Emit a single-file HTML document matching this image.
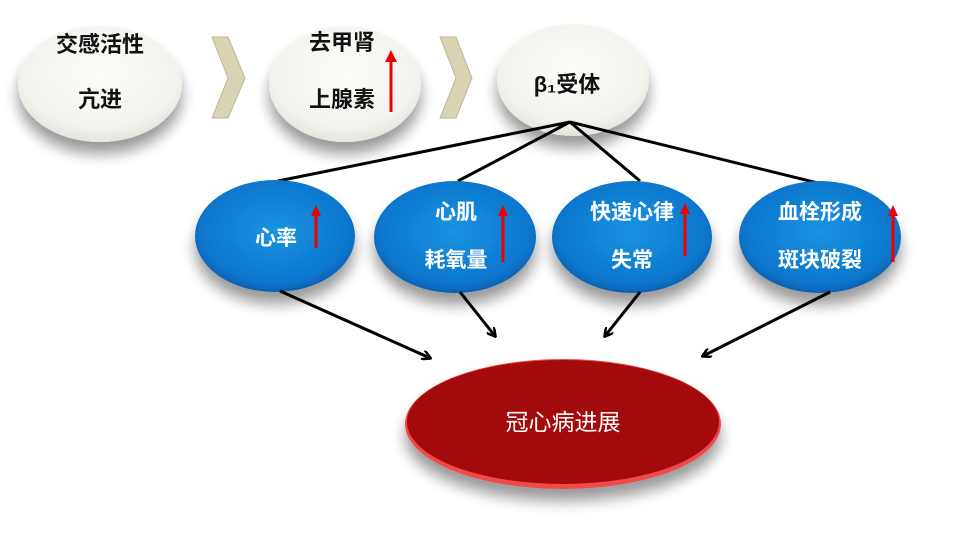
<!DOCTYPE html>
<html><head><meta charset="utf-8"><style>
body{margin:0;background:#fff;}
svg text{font-family:"Liberation Sans","Noto Sans CJK SC",sans-serif;}
</style></head><body>
<svg width="960" height="543" viewBox="0 0 960 543" xmlns="http://www.w3.org/2000/svg">
<defs>
<radialGradient id="wg" cx="50%" cy="40%" r="60%"><stop offset="0" stop-color="#fbfbf8"/><stop offset="0.8" stop-color="#f3f3ee"/><stop offset="1" stop-color="#e4e4de"/></radialGradient>
<radialGradient id="bg" cx="50%" cy="45%" r="55%"><stop offset="0" stop-color="#1a94e2"/><stop offset="0.85" stop-color="#0b76cc"/><stop offset="1" stop-color="#0660b0"/></radialGradient>
<filter id="sh" x="-30%" y="-30%" width="160%" height="170%"><feGaussianBlur in="SourceAlpha" stdDeviation="7"/><feOffset dx="0" dy="12"/><feComponentTransfer><feFuncA type="linear" slope="0.4"/></feComponentTransfer><feMerge><feMergeNode/><feMergeNode in="SourceGraphic"/></feMerge></filter>
<marker id="ah" markerWidth="10" markerHeight="10" refX="8" refY="5" orient="auto" markerUnits="userSpaceOnUse"><path d="M0,0 L9,5 L0,10" fill="none" stroke="#000" stroke-width="2.5"/></marker>
</defs>
<ellipse cx="100" cy="84" rx="82" ry="58" fill="url(#wg)" filter="url(#sh)"/>
<ellipse cx="345" cy="84" rx="76" ry="58" fill="url(#wg)" filter="url(#sh)"/>
<ellipse cx="573" cy="80" rx="76" ry="56" fill="url(#wg)" filter="url(#sh)"/>
<polygon points="212,37 228,37 245,78 228,118 212,118 228,78" fill="#d8d3b3" stroke="#bdb793" stroke-width="1"/>
<polygon points="440,37 456,37 472,78 456,118 440,118 456,78" fill="#d8d3b3" stroke="#bdb793" stroke-width="1"/>
<g font-weight="bold" fill="#111" font-size="22" text-anchor="middle">
<text x="100" y="52">交感活性</text>
<text x="100" y="107">亢进</text>
<text x="342" y="50">去甲肾</text>
<text x="342" y="107">上腺素</text>
<text x="567" y="92">β₁受体</text>
</g>
<line x1="391" y1="112" x2="391" y2="60" stroke="#e00" stroke-width="3"/><polygon points="385,62 391,50 397,62" fill="#e00"/>
<g stroke="#000" stroke-width="3">
<line x1="570" y1="122" x2="278" y2="181"/>
<line x1="570" y1="122" x2="458" y2="181"/>
<line x1="570" y1="122" x2="640" y2="181"/>
<line x1="570" y1="122" x2="830" y2="186"/>
</g>
<ellipse cx="275" cy="236" rx="80" ry="56" fill="url(#bg)" filter="url(#sh)"/>
<ellipse cx="455" cy="237" rx="81" ry="56" fill="url(#bg)" filter="url(#sh)"/>
<ellipse cx="632" cy="237" rx="80" ry="56" fill="url(#bg)" filter="url(#sh)"/>
<ellipse cx="820" cy="237" rx="81" ry="56" fill="url(#bg)" filter="url(#sh)"/>
<g fill="#fff" font-size="21" text-anchor="middle" font-weight="bold">
<text x="276" y="245">心率</text>
<text x="456" y="219">心肌</text>
<text x="456" y="267">耗氧量</text>
<text x="632" y="219">快速心律</text>
<text x="632" y="267">失常</text>
<text x="820" y="219">血栓形成</text>
<text x="820" y="267">斑块破裂</text>
</g>
<g stroke="#e00" stroke-width="3">
<line x1="316" y1="248" x2="316" y2="214"/>
<line x1="503" y1="262" x2="503" y2="214"/>
<line x1="685" y1="256" x2="685" y2="212"/>
<line x1="893" y1="262" x2="893" y2="214"/>
</g>
<g fill="#e00">
<polygon points="311,216 316,205 321,216"/>
<polygon points="498,216 503,205 508,216"/>
<polygon points="680,214 685,203 690,214"/>
<polygon points="888,216 893,205 898,216"/>
</g>
<g stroke="#000" stroke-width="3" marker-end="url(#ah)">
<line x1="280" y1="291" x2="430" y2="358"/>
<line x1="460" y1="292" x2="495" y2="336"/>
<line x1="640" y1="292" x2="605" y2="336"/>
<line x1="830" y1="292" x2="703" y2="356"/>
</g>
<ellipse cx="563" cy="424" rx="158" ry="65" fill="#f04848" filter="url(#sh)"/>
<ellipse cx="563" cy="422" rx="156" ry="62" fill="#a30a0c"/>
<text x="563" y="430" font-size="23" text-anchor="middle" fill="#fff">冠心病进展</text>
</svg>
</body></html>
